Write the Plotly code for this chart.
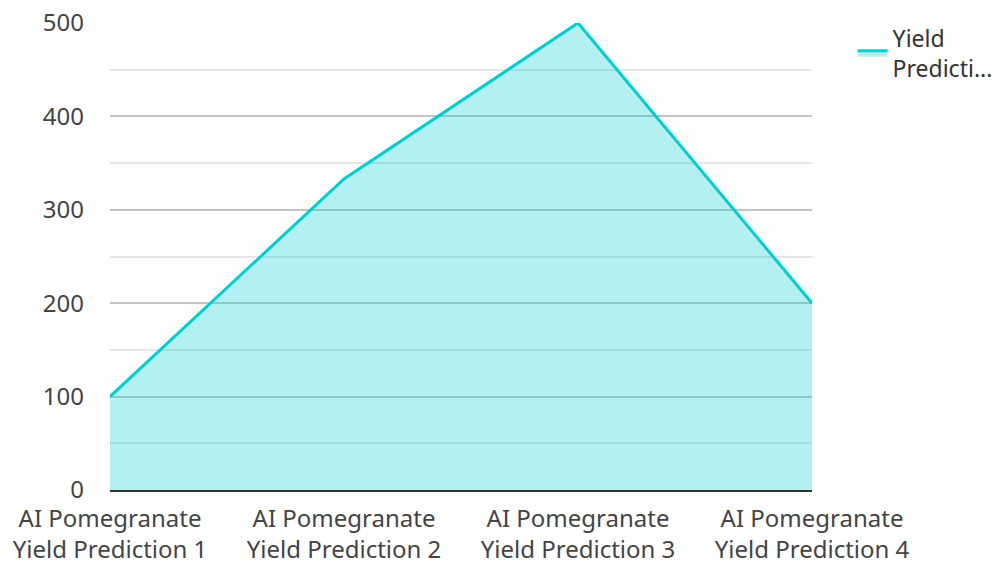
import plotly.graph_objects as go

categories = ["AI Pomegranate<br>Yield Prediction 1", "AI Pomegranate<br>Yield Prediction 2",
              "AI Pomegranate<br>Yield Prediction 3", "AI Pomegranate<br>Yield Prediction 4"]
values = [100, 333, 500, 200]
series_name = "Yield<br>Predicti..."
y_ticks = [0, 100, 200, 300, 400, 500]

x_idx = list(range(len(categories)))

fig = go.Figure()
fig.add_trace(go.Scatter(
    x=x_idx, y=values, name=series_name, mode="lines",
    line=dict(color="#00CED1", width=3),
    fill="tozeroy", fillcolor="rgba(0,206,209,0.3)",
    showlegend=True,
))

font = dict(family="Noto Sans", size=24, color="#444444")
fig.update_layout(
    width=996, height=554,
    margin=dict(l=102, r=192, t=15, b=72),
    paper_bgcolor="white", plot_bgcolor="white",
    font=font,
    showlegend=True,
    legend=dict(xref="container", yref="container", x=0.848, y=0.985,
                xanchor="left", yanchor="top",
                font=dict(family="Noto Sans", size=23, color="#333333"),
                bgcolor="rgba(0,0,0,0)"),
    xaxis=dict(range=[0, 3], tickvals=x_idx, ticktext=categories,
               showgrid=False, zeroline=False, showline=True, automargin=False,
               linecolor="#333333", linewidth=2, ticks="",
               tickfont=font, ticklabelstandoff=6, ticklabeloverflow="allow"),
    yaxis=dict(range=[0, 500], tickvals=y_ticks, showgrid=True, automargin=False,
               gridcolor="#c4c4c4", gridwidth=1.5, zeroline=False,
               showline=False, ticks="", tickfont=font,
               ticklabelstandoff=25, ticklabeloverflow="allow",
               minor=dict(dtick=50, showgrid=True, gridcolor="#e6e6e6", gridwidth=1.5)),
)

fig.write_html("out.html")
